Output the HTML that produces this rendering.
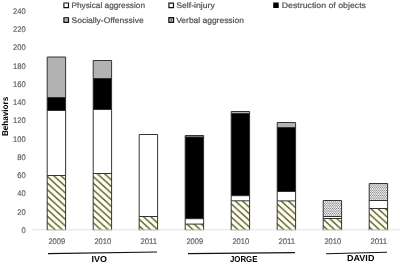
<!DOCTYPE html>
<html><head><meta charset="utf-8"><title>Behaviors chart</title>
<style>
html,body{margin:0;padding:0;background:#fff;}
body{width:400px;height:264px;overflow:hidden;}
svg{display:block;font-family:"Liberation Sans",sans-serif;text-rendering:geometricPrecision;}
.ax{font-size:8.1px;fill:#5a5a5a;stroke:#5a5a5a;stroke-width:0.15px;}
.lg{font-size:8.0px;fill:#505050;stroke:#505050;stroke-width:0.2px;}
.b{font-size:8.6px;font-weight:bold;fill:#000;}
</style></head><body>
<svg width="400" height="264" viewBox="0 0 400 264">
<defs>
<pattern id="hatch0" patternUnits="userSpaceOnUse" width="7.2" height="6.6" patternTransform="translate(47.20 202.75)">
<rect width="7.2" height="6.6" fill="#fffff4"/>
<path d="M-7.2 -6.6 L14.4 13.2 M-7.2 0 L7.2 13.2 M0 -6.6 L14.4 6.6" stroke="#56561c" stroke-width="1.3" fill="none"/>
</pattern>
<pattern id="hatch1" patternUnits="userSpaceOnUse" width="7.2" height="6.6" patternTransform="translate(93.20 202.90)">
<rect width="7.2" height="6.6" fill="#fffff4"/>
<path d="M-7.2 -6.6 L14.4 13.2 M-7.2 0 L7.2 13.2 M0 -6.6 L14.4 6.6" stroke="#56561c" stroke-width="1.3" fill="none"/>
</pattern>
<pattern id="hatch2" patternUnits="userSpaceOnUse" width="7.2" height="6.6" patternTransform="translate(139.20 206.15)">
<rect width="7.2" height="6.6" fill="#fffff4"/>
<path d="M-7.2 -6.6 L14.4 13.2 M-7.2 0 L7.2 13.2 M0 -6.6 L14.4 6.6" stroke="#56561c" stroke-width="1.3" fill="none"/>
</pattern>
<pattern id="hatch3" patternUnits="userSpaceOnUse" width="7.2" height="6.6" patternTransform="translate(185.20 202.75)">
<rect width="7.2" height="6.6" fill="#fffff4"/>
<path d="M-7.2 -6.6 L14.4 13.2 M-7.2 0 L7.2 13.2 M0 -6.6 L14.4 6.6" stroke="#56561c" stroke-width="1.3" fill="none"/>
</pattern>
<pattern id="hatch4" patternUnits="userSpaceOnUse" width="7.2" height="6.6" patternTransform="translate(231.20 203.75)">
<rect width="7.2" height="6.6" fill="#fffff4"/>
<path d="M-7.2 -6.6 L14.4 13.2 M-7.2 0 L7.2 13.2 M0 -6.6 L14.4 6.6" stroke="#56561c" stroke-width="1.3" fill="none"/>
</pattern>
<pattern id="hatch5" patternUnits="userSpaceOnUse" width="7.2" height="6.6" patternTransform="translate(277.20 203.95)">
<rect width="7.2" height="6.6" fill="#fffff4"/>
<path d="M-7.2 -6.6 L14.4 13.2 M-7.2 0 L7.2 13.2 M0 -6.6 L14.4 6.6" stroke="#56561c" stroke-width="1.3" fill="none"/>
</pattern>
<pattern id="hatch6" patternUnits="userSpaceOnUse" width="7.2" height="6.6" patternTransform="translate(323.20 199.45)">
<rect width="7.2" height="6.6" fill="#fffff4"/>
<path d="M-7.2 -6.6 L14.4 13.2 M-7.2 0 L7.2 13.2 M0 -6.6 L14.4 6.6" stroke="#56561c" stroke-width="1.3" fill="none"/>
</pattern>
<pattern id="hatch7" patternUnits="userSpaceOnUse" width="7.2" height="6.6" patternTransform="translate(369.20 200.55)">
<rect width="7.2" height="6.6" fill="#fffff4"/>
<path d="M-7.2 -6.6 L14.4 13.2 M-7.2 0 L7.2 13.2 M0 -6.6 L14.4 6.6" stroke="#56561c" stroke-width="1.3" fill="none"/>
</pattern>
<pattern id="dots" patternUnits="userSpaceOnUse" width="2" height="2.6">
<rect width="2" height="2.6" fill="#ececec"/>
<rect x="0" y="0" width="1" height="0.8" fill="#707070"/>
<rect x="1" y="1.3" width="1" height="0.8" fill="#707070"/>
</pattern>
</defs>
<rect width="400" height="264" fill="#fff"/>
<line x1="32" y1="229.8" x2="400" y2="229.8" stroke="#d6d6d6" stroke-width="0.7"/>
<rect x="47.20" y="175.50" width="18.4" height="54.30" fill="url(#hatch0)"/>
<rect x="47.20" y="110.50" width="18.4" height="65.00" fill="#fff"/>
<rect x="47.20" y="97.50" width="18.4" height="13.00" fill="#000"/>
<rect x="47.20" y="57.00" width="18.4" height="40.50" fill="#b2b2b2"/>
<path d="M47.20 229.8 V57.00 H65.60 V229.8 M47.20 175.50 H65.60 M47.20 110.50 H65.60 M47.20 97.50 H65.60" fill="none" stroke="#2a2a2a" stroke-width="0.95"/>
<line x1="46.70" y1="229.9" x2="66.10" y2="229.9" stroke="#a8a8a0" stroke-width="0.8"/>
<rect x="93.20" y="173.50" width="18.4" height="56.30" fill="url(#hatch1)"/>
<rect x="93.20" y="109.50" width="18.4" height="64.00" fill="#fff"/>
<rect x="93.20" y="78.50" width="18.4" height="31.00" fill="#000"/>
<rect x="93.20" y="60.50" width="18.4" height="18.00" fill="#b2b2b2"/>
<path d="M93.20 229.8 V60.50 H111.60 V229.8 M93.20 173.50 H111.60 M93.20 109.50 H111.60 M93.20 78.50 H111.60" fill="none" stroke="#2a2a2a" stroke-width="0.95"/>
<line x1="92.70" y1="229.9" x2="112.10" y2="229.9" stroke="#a8a8a0" stroke-width="0.8"/>
<rect x="139.20" y="216.50" width="18.4" height="13.30" fill="url(#hatch2)"/>
<rect x="139.20" y="134.50" width="18.4" height="82.00" fill="#fff"/>
<path d="M139.20 229.8 V134.50 H157.60 V229.8 M139.20 216.50 H157.60" fill="none" stroke="#2a2a2a" stroke-width="0.95"/>
<line x1="138.70" y1="229.9" x2="158.10" y2="229.9" stroke="#a8a8a0" stroke-width="0.8"/>
<rect x="185.20" y="224.10" width="18.4" height="5.70" fill="url(#hatch3)"/>
<rect x="185.20" y="218.70" width="18.4" height="5.40" fill="#fff"/>
<rect x="185.20" y="137.00" width="18.4" height="81.70" fill="#000"/>
<rect x="185.20" y="135.50" width="18.4" height="1.50" fill="#b2b2b2"/>
<path d="M185.20 229.8 V135.50 H203.60 V229.8 M185.20 224.10 H203.60 M185.20 218.70 H203.60 M185.20 137.00 H203.60" fill="none" stroke="#2a2a2a" stroke-width="0.95"/>
<line x1="184.70" y1="229.9" x2="204.10" y2="229.9" stroke="#a8a8a0" stroke-width="0.8"/>
<rect x="231.20" y="200.80" width="18.4" height="29.00" fill="url(#hatch4)"/>
<rect x="231.20" y="195.70" width="18.4" height="5.10" fill="#fff"/>
<rect x="231.20" y="113.50" width="18.4" height="82.20" fill="#000"/>
<rect x="231.20" y="111.50" width="18.4" height="2.00" fill="#b2b2b2"/>
<path d="M231.20 229.8 V111.50 H249.60 V229.8 M231.20 200.80 H249.60 M231.20 195.70 H249.60 M231.20 113.50 H249.60" fill="none" stroke="#2a2a2a" stroke-width="0.95"/>
<line x1="230.70" y1="229.9" x2="250.10" y2="229.9" stroke="#a8a8a0" stroke-width="0.8"/>
<rect x="277.20" y="200.90" width="18.4" height="28.90" fill="url(#hatch5)"/>
<rect x="277.20" y="191.50" width="18.4" height="9.40" fill="#fff"/>
<rect x="277.20" y="127.50" width="18.4" height="64.00" fill="#000"/>
<rect x="277.20" y="122.50" width="18.4" height="5.00" fill="#b2b2b2"/>
<path d="M277.20 229.8 V122.50 H295.60 V229.8 M277.20 200.90 H295.60 M277.20 191.50 H295.60 M277.20 127.50 H295.60" fill="none" stroke="#2a2a2a" stroke-width="0.95"/>
<line x1="276.70" y1="229.9" x2="296.10" y2="229.9" stroke="#a8a8a0" stroke-width="0.8"/>
<rect x="323.20" y="218.50" width="18.4" height="11.30" fill="url(#hatch6)"/>
<rect x="323.20" y="216.50" width="18.4" height="2.00" fill="#fff"/>
<rect x="323.20" y="200.50" width="18.4" height="16.00" fill="url(#dots)"/>
<path d="M323.20 229.8 V200.50 H341.60 V229.8 M323.20 218.50 H341.60 M323.20 216.50 H341.60" fill="none" stroke="#2a2a2a" stroke-width="0.95"/>
<line x1="322.70" y1="229.9" x2="342.10" y2="229.9" stroke="#a8a8a0" stroke-width="0.8"/>
<rect x="369.20" y="208.50" width="18.4" height="21.30" fill="url(#hatch7)"/>
<rect x="369.20" y="200.50" width="18.4" height="8.00" fill="#fff"/>
<rect x="369.20" y="183.50" width="18.4" height="17.00" fill="url(#dots)"/>
<path d="M369.20 229.8 V183.50 H387.60 V229.8 M369.20 208.50 H387.60 M369.20 200.50 H387.60" fill="none" stroke="#2a2a2a" stroke-width="0.95"/>
<line x1="368.70" y1="229.9" x2="388.10" y2="229.9" stroke="#a8a8a0" stroke-width="0.8"/>
<g transform="matrix(1 0.0004 0 1 0 0)">
<text x="21.40" y="232.90" class="ax" textLength="4.2" lengthAdjust="spacingAndGlyphs">0</text>
<text x="17.20" y="214.65" class="ax" textLength="8.4" lengthAdjust="spacingAndGlyphs">20</text>
<text x="17.20" y="196.40" class="ax" textLength="8.4" lengthAdjust="spacingAndGlyphs">40</text>
<text x="17.20" y="178.15" class="ax" textLength="8.4" lengthAdjust="spacingAndGlyphs">60</text>
<text x="17.20" y="159.90" class="ax" textLength="8.4" lengthAdjust="spacingAndGlyphs">80</text>
<text x="13.00" y="141.65" class="ax" textLength="12.6" lengthAdjust="spacingAndGlyphs">100</text>
<text x="13.00" y="123.40" class="ax" textLength="12.6" lengthAdjust="spacingAndGlyphs">120</text>
<text x="13.00" y="105.15" class="ax" textLength="12.6" lengthAdjust="spacingAndGlyphs">140</text>
<text x="13.00" y="86.90" class="ax" textLength="12.6" lengthAdjust="spacingAndGlyphs">160</text>
<text x="13.00" y="68.65" class="ax" textLength="12.6" lengthAdjust="spacingAndGlyphs">180</text>
<text x="13.00" y="50.40" class="ax" textLength="12.6" lengthAdjust="spacingAndGlyphs">200</text>
<text x="13.00" y="32.15" class="ax" textLength="12.6" lengthAdjust="spacingAndGlyphs">220</text>
<text x="13.00" y="13.90" class="ax" textLength="12.6" lengthAdjust="spacingAndGlyphs">240</text>
<text x="56.80" y="244.2" text-anchor="middle" class="ax" textLength="16.8" lengthAdjust="spacingAndGlyphs">2009</text>
<text x="102.80" y="244.2" text-anchor="middle" class="ax" textLength="16.8" lengthAdjust="spacingAndGlyphs">2010</text>
<text x="148.80" y="244.2" text-anchor="middle" class="ax" textLength="16.8" lengthAdjust="spacingAndGlyphs">2011</text>
<text x="194.80" y="244.2" text-anchor="middle" class="ax" textLength="16.8" lengthAdjust="spacingAndGlyphs">2009</text>
<text x="240.80" y="244.2" text-anchor="middle" class="ax" textLength="16.8" lengthAdjust="spacingAndGlyphs">2010</text>
<text x="286.80" y="244.2" text-anchor="middle" class="ax" textLength="16.8" lengthAdjust="spacingAndGlyphs">2011</text>
<text x="332.80" y="244.2" text-anchor="middle" class="ax" textLength="16.8" lengthAdjust="spacingAndGlyphs">2010</text>
<text x="378.80" y="244.2" text-anchor="middle" class="ax" textLength="16.8" lengthAdjust="spacingAndGlyphs">2011</text>
<text transform="translate(8 136.1) rotate(-90)" class="b" textLength="39.4" lengthAdjust="spacingAndGlyphs">Behaviors</text>
<!-- legend -->
<rect x="63.9" y="3" width="4.6" height="4.6" fill="#fff" stroke="#111" stroke-width="1.15"/>
<text x="71.5" y="7.6" class="lg" textLength="73.5" lengthAdjust="spacingAndGlyphs">Physical aggression</text>
<rect x="168.9" y="3" width="4.6" height="4.6" fill="#fff" stroke="#111" stroke-width="1.15"/>
<text x="176.2" y="7.6" class="lg" textLength="38.6" lengthAdjust="spacingAndGlyphs">Self-injury</text>
<rect x="273.2" y="2.4" width="5.5" height="5.5" fill="#000"/>
<text x="281.7" y="7.6" class="lg" textLength="84.3" lengthAdjust="spacingAndGlyphs">Destruction of objects</text>
<rect x="63.9" y="17.7" width="4.6" height="4.6" fill="#b2b2b2" stroke="#111" stroke-width="1.15"/>
<text x="71.5" y="22.7" class="lg" textLength="72.2" lengthAdjust="spacingAndGlyphs">Socially-Offenssive</text>
<rect x="168.9" y="17.7" width="4.6" height="4.6" fill="#e6e6e6" stroke="#111" stroke-width="1.3"/><rect x="170.6" y="19.2" width="1.2" height="2.2" fill="#333"/>
<text x="176.2" y="22.7" class="lg" textLength="67.7" lengthAdjust="spacingAndGlyphs">Verbal aggression</text>
<!-- group lines and names -->
<line x1="48" y1="253.6" x2="157" y2="251.9" stroke="#111" stroke-width="1.15"/>
<line x1="188" y1="253.6" x2="295" y2="252.5" stroke="#111" stroke-width="1.15"/>
<line x1="326" y1="253.6" x2="387" y2="252.1" stroke="#111" stroke-width="1.15"/>
<text x="91.6" y="262" class="b" textLength="15.4" lengthAdjust="spacingAndGlyphs">IVO</text>
<text x="230" y="262" class="b" textLength="27.4" lengthAdjust="spacingAndGlyphs">JORGE</text>
<text x="347" y="261.3" class="b" textLength="27.4" lengthAdjust="spacingAndGlyphs">DAVID</text>
</g>
</svg>
</body></html>
